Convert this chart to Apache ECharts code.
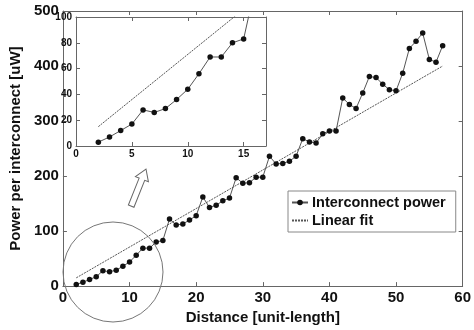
<!DOCTYPE html>
<html>
<head>
<meta charset="utf-8">
<script src="https://cdn.jsdelivr.net/npm/echarts@6/dist/echarts.min.js"></script>
<style>
  html, body { margin: 0; padding: 0; background: #fff; }
  #chart { width: 474px; height: 330px; }
</style>
</head>
<body>
<div id="chart"></div>
<script>
// distance in unit-length
const distance = [2, 3, 4, 5, 6, 7, 8, 9, 10, 11, 12, 13, 14, 15, 16, 17, 18, 19, 20,
  21, 22, 23, 24, 25, 26, 27, 28, 29, 30, 31, 32, 33, 34, 35, 36, 37, 38, 39, 40,
  41, 42, 43, 44, 45, 46, 47, 48, 49, 50, 51, 52, 53, 54, 55, 56, 57];
// power per interconnect [uW]
const power = [3, 7, 12, 17, 28, 26, 29, 36, 44, 56, 69, 69, 80, 83, 122, 111, 113, 120, 128,
  162, 143, 147, 155, 160, 197, 187, 188, 198, 198, 236, 222, 223, 227, 236, 268, 262, 260, 277, 282,
  282, 342, 330, 323, 351, 381, 379, 367, 357, 355, 387, 432, 445, 460, 412, 407, 437];
// linear fit end points
const fitX = [2, 57];
const fitY = [15, 400];

const xTicksMain = { min: 0, max: 60, interval: 10 };
const yTicksMain = { min: 0, max: 500, interval: 100 };
const xTicksInset = { min: 0, max: 17, interval: 5 };
const yTicksInset = { min: 0, max: 100, interval: 20 };

const powerData = distance.map((d, i) => [d, power[i]]);
const fitData = fitX.map((d, i) => [d, fitY[i]]);

const font = "'Liberation Sans', Arial, sans-serif";
const axisColor = '#666';

function axis(grid, ticks, pos, showLabel, fontSize, extra) {
  return Object.assign({
    type: 'value',
    gridIndex: grid,
    position: pos,
    min: ticks.min,
    max: ticks.max,
    interval: ticks.interval,
    splitLine: { show: false },
    axisLine: { show: true, onZero: false, lineStyle: { color: axisColor, width: 1 } },
    axisTick: { show: true, inside: true, length: 4, lineStyle: { color: axisColor } },
    axisLabel: {
      show: showLabel,
      showMaxLabel: ticks.max % ticks.interval === 0,
      fontFamily: font,
      fontWeight: 'bold',
      fontSize: fontSize,
      color: '#111',
      margin: 4,
    },
  }, extra || {});
}

const chart = echarts.init(document.getElementById('chart'));

chart.setOption({
  animation: false,
  backgroundColor: '#fff',
  grid: [
    { left: 55, right: 11, top: 11, bottom: 32 },
    { left: 76, top: 17, width: 190, height: 129, show: true, backgroundColor: '#fff', borderWidth: 0 },
  ],
  legend: {
    data: [
      { name: 'Interconnect power' },
      { name: 'Linear fit', itemStyle: { opacity: 0 } },
    ],
    orient: 'vertical',
    left: 288,
    top: 191,
    itemWidth: 16,
    itemHeight: 7,
    itemGap: 3,
    padding: [4, 10, 4, 3],
    borderColor: '#888',
    borderWidth: 1,
    backgroundColor: '#fff',
    textStyle: { fontFamily: font, fontWeight: 'bold', fontSize: 14.5, color: '#111', padding: [0, 0, 0, -1] },
  },
  xAxis: [
    axis(0, xTicksMain, 'bottom', true, 15, {
      name: 'Distance [unit-length]',
      nameLocation: 'middle',
      nameGap: 21,
      nameTextStyle: { fontFamily: font, fontWeight: 'bold', fontSize: 15, color: '#111' },
    }),
    axis(0, xTicksMain, 'top', false, 15),
    axis(1, xTicksInset, 'bottom', true, 10, { axisLabel: {
      showMaxLabel: false, fontFamily: font, fontWeight: 'bold', fontSize: 10, color: '#111', margin: 3,
    } }),
    axis(1, xTicksInset, 'top', false, 10),
  ],
  yAxis: [
    axis(0, yTicksMain, 'left', true, 15, {
      name: 'Power per interconnect [uW]',
      nameLocation: 'middle',
      nameGap: 31,
      nameTextStyle: { fontFamily: font, fontWeight: 'bold', fontSize: 15, color: '#111' },
    }),
    axis(0, yTicksMain, 'right', false, 15),
    axis(1, yTicksInset, 'left', true, 10),
    axis(1, yTicksInset, 'right', false, 10),
  ],
  series: [
    {
      name: 'Interconnect power',
      type: 'line',
      xAxisIndex: 0,
      yAxisIndex: 0,
      data: powerData,
      symbol: 'circle',
      symbolSize: 5.5,
      itemStyle: { color: '#111' },
      lineStyle: { color: '#555', width: 1 },
    },
    {
      name: 'Linear fit',
      type: 'line',
      xAxisIndex: 0,
      yAxisIndex: 0,
      data: fitData,
      symbol: 'none',
      itemStyle: { color: '#555' },
      lineStyle: { color: '#555', width: 1, type: [2, 1] },
    },
    {
      name: 'Interconnect power',
      type: 'line',
      xAxisIndex: 2,
      yAxisIndex: 2,
      data: powerData,
      clip: true,
      symbol: 'circle',
      symbolSize: 5.5,
      itemStyle: { color: '#111' },
      lineStyle: { color: '#555', width: 1 },
    },
    {
      name: 'Linear fit',
      type: 'line',
      xAxisIndex: 2,
      yAxisIndex: 2,
      data: fitData,
      clip: true,
      symbol: 'none',
      itemStyle: { color: '#555' },
      lineStyle: { color: '#555', width: 1, type: [2, 1] },
    },
  ],
  graphic: [
    {
      type: 'circle',
      shape: { cx: 113, cy: 272, r: 50 },
      style: { fill: 'none', stroke: '#777', lineWidth: 1 },
      z: 100,
    },
    {
      type: 'polygon',
      x: 146,
      y: 169,
      rotation: -0.38,
      shape: { points: [[0, 0], [7, 11], [3, 11], [3, 40], [-3, 40], [-3, 11], [-7, 11]] },
      style: { fill: '#fff', stroke: '#666', lineWidth: 1 },
      z: 100,
    },
  ],
});
</script>
</body>
</html>
